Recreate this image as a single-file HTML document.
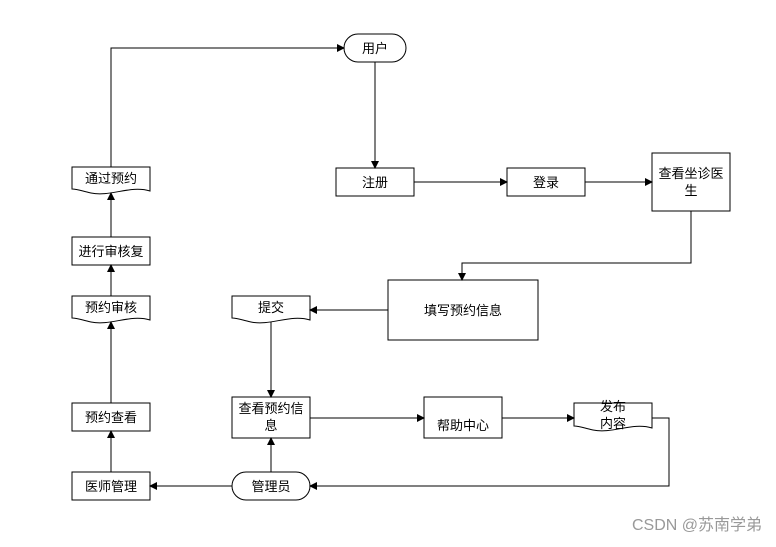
<!DOCTYPE html>
<html><head><meta charset="utf-8"><style>
body{margin:0;background:#fff;}
svg text{font-family:"Liberation Sans","Noto Sans CJK SC",sans-serif;font-size:13px;fill:#000;}
</style></head><body>
<svg width="776" height="542" viewBox="0 0 776 542" xmlns="http://www.w3.org/2000/svg">
<defs><marker id="a" markerWidth="8" markerHeight="8" refX="7" refY="4" orient="auto" markerUnits="userSpaceOnUse"><path d="M0,0 L8,4 L0,8 z" fill="#000"/></marker></defs>
<g fill="#fff" stroke="#000" stroke-width="1">
<rect x="344" y="34" width="62" height="28" rx="14"/>
<rect x="336" y="168" width="78" height="28"/>
<rect x="507" y="168" width="78" height="28"/>
<rect x="652" y="153" width="78" height="58"/>
<rect x="388" y="280" width="150" height="60"/>
<path d="M232,296 H310 V320 C290,314 271,326 251,322 C242,320 237,318 232,318 Z"/>
<rect x="232" y="397" width="78" height="41"/>
<rect x="424" y="397" width="78" height="41"/>
<path d="M574,403 H652 V428 C632,422 613,434 593,430 C584,428 579,426 574,426 Z"/>
<rect x="232" y="472" width="78" height="28" rx="14"/>
<rect x="72" y="472" width="78" height="28"/>
<rect x="72" y="403" width="78" height="28"/>
<path d="M72,296 H150 V320 C130,314 111,326 91,322 C82,320 77,318 72,318 Z"/>
<rect x="72" y="237" width="78" height="28"/>
<path d="M72,167 H150 V191 C130,185 111,197 91,193 C82,191 77,189 72,189 Z"/>
</g>
<g fill="none" stroke="#000" stroke-width="1" marker-end="url(#a)">
<path d="M375,62 V168"/>
<path d="M414,182 H507"/>
<path d="M585,182 H652"/>
<path d="M691,211 V263 H462 V280"/>
<path d="M388,310 H310"/>
<path d="M271,322 V397"/>
<path d="M310,418 H424"/>
<path d="M502,418 H574"/>
<path d="M652,418 H669 V486 H310"/>
<path d="M232,486 H150"/>
<path d="M271,472 V438"/>
<path d="M111,472 V431"/>
<path d="M111,403 V322"/>
<path d="M111,296 V265"/>
<path d="M111,237 V193"/>
<path d="M111,167 V48 H344"/>
</g>
<g text-anchor="middle">
<text x="375" y="53">用户</text>
<text x="375" y="187">注册</text>
<text x="546" y="187">登录</text>
<text x="691" y="178">查看坐诊医</text>
<text x="691" y="195">生</text>
<text x="463" y="315">填写预约信息</text>
<text x="271" y="312">提交</text>
<text x="271" y="413">查看预约信</text>
<text x="271" y="430">息</text>
<text x="463" y="430">帮助中心</text>
<text x="613" y="411">发布</text>
<text x="613" y="428">内容</text>
<text x="271" y="491">管理员</text>
<text x="111" y="491">医师管理</text>
<text x="111" y="422">预约查看</text>
<text x="111" y="312">预约审核</text>
<text x="111" y="256">进行审核复</text>
<text x="111" y="183">通过预约</text>
</g>
<text x="762" y="530" text-anchor="end" style="fill:#999;font-size:16px">CSDN @苏南学弟</text>
</svg>
</body></html>
